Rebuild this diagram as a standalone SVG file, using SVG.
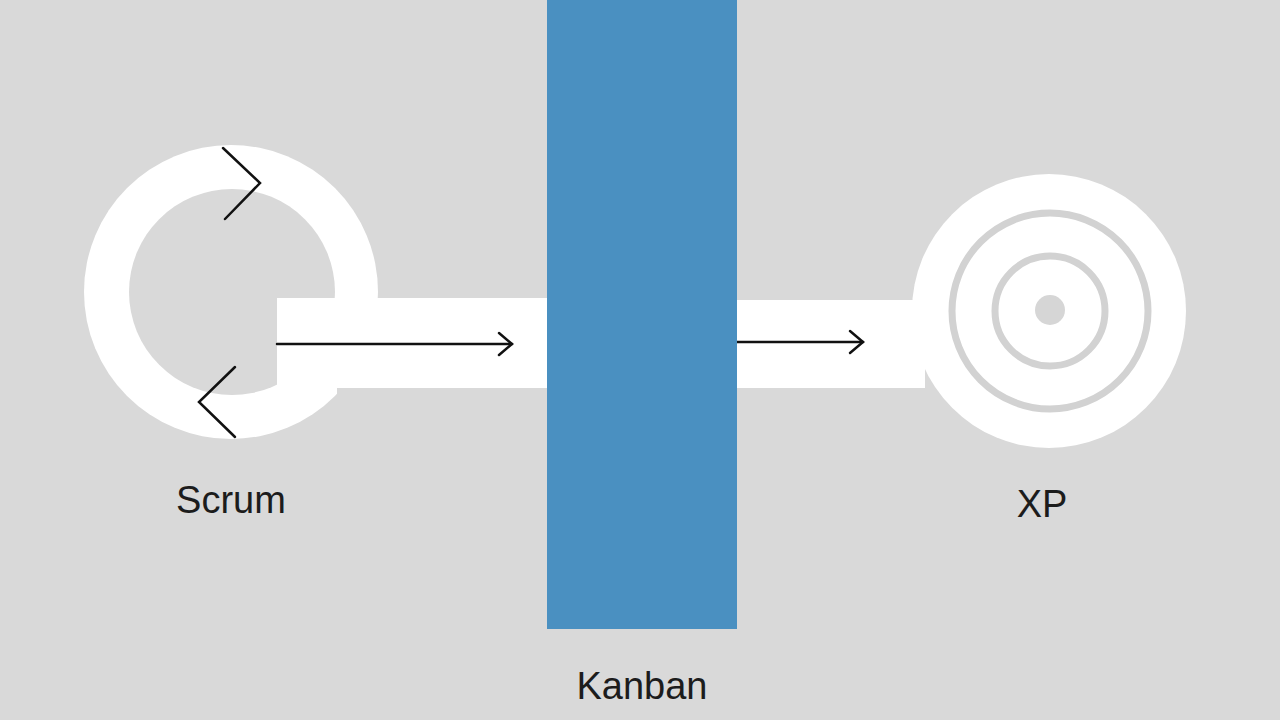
<svg xmlns="http://www.w3.org/2000/svg" width="1280" height="720" viewBox="0 0 1280 720">
<style>
.lbl{font-family:"Liberation Sans",Arial,sans-serif;font-size:38px;fill:#1c1c1c;text-anchor:middle}
.ln{stroke:#111;stroke-width:2.5;fill:none;stroke-linecap:round;stroke-linejoin:miter}
.ring{fill:none;stroke:#d2d2d2}
</style>
<defs>
<marker id="arr" markerWidth="20" markerHeight="20" refX="14" refY="10" orient="auto" markerUnits="userSpaceOnUse">
<path d="M2,-1 L14,10 L2,21" transform="translate(0,0) scale(1,0.95)" fill="none" stroke="#111" stroke-width="2.5"/>
</marker>
</defs>
<rect width="1280" height="720" fill="#d9d9d9"/>
<g id="scrum">
<circle cx="231" cy="292" r="147" fill="#ffffff"/>
<circle cx="232" cy="292" r="103" fill="#d9d9d9"/>
<rect x="337" y="388" width="60" height="60" fill="#d9d9d9"/>
<polyline class="ln" points="223,148 260,183 225,219"/>
<polyline class="ln" points="235,367 199,402 235,437"/>
<text class="lbl" x="231" y="513">Scrum</text>
</g>
<g id="xp">
<circle cx="1049" cy="311" r="137" fill="#ffffff"/>
<circle class="ring" cx="1050" cy="311" r="98" stroke-width="7"/>
<circle class="ring" cx="1050" cy="311" r="55" stroke-width="7"/>
<circle cx="1050" cy="310" r="15" fill="#d6d6d6"/>
<text class="lbl" x="1042" y="517">XP</text>
</g>
<g id="connectors">
<rect x="277" y="298" width="272" height="90" fill="#ffffff"/>
<rect x="735" y="300" width="190" height="88" fill="#ffffff"/>
<line class="ln" x1="277" y1="344" x2="512" y2="344"/>
<polyline class="ln" points="499,333 512,344 499,355"/>
<line class="ln" x1="737" y1="342" x2="863" y2="342"/>
<polyline class="ln" points="850,331 863,342 850,353"/>
</g>
<g id="kanban">
<rect x="547" y="0" width="190" height="629" fill="#4a90c1"/>
<text class="lbl" x="642" y="699">Kanban</text>
</g>
</svg>
